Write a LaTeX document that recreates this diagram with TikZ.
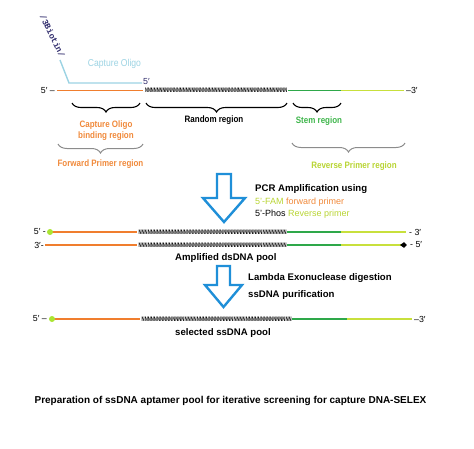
\documentclass[tikz,border=0pt]{standalone}
\usepackage{fontspec}
\usepackage{graphicx}
\setmainfont{Liberation Sans}
\newfontfamily\condf[FakeStretch=0.86]{Liberation Sans}
\newfontfamily\monof{Liberation Mono}
\usetikzlibrary{decorations.pathreplacing}
\definecolor{dorange}{HTML}{F07E2E}
\definecolor{lorange}{HTML}{F0893A}
\definecolor{dgreen}{HTML}{2EA84A}
\definecolor{lgreen}{HTML}{C8E03C}
\definecolor{tgreen}{HTML}{B8D432}
\definecolor{sgreen}{HTML}{3DB54A}
\definecolor{lblue}{HTML}{9CD3E3}
\definecolor{ablue}{HTML}{1F8FD8}
\definecolor{bgray}{HTML}{8C8C8C}
\definecolor{navy}{HTML}{2E2A6B}
\newcommand{\Nseq}[1]{\resizebox{#1}{4.5pt}{\bfseries NNNNNNNNNNNNNNNNNNNNNNNNNNNNNNNNNNNNNNNNNNNNNNNNN}}
\tikzset{
  strand/.style={line width=1.9pt},
  endlbl/.style={inner sep=0pt,font=\fontsize{8.8}{10}\selectfont},
  lbl/.style={inner sep=0pt,font=\condf\bfseries\fontsize{9.3}{11.5}\selectfont,align=center},
  brc/.style={decorate,decoration={brace,mirror,amplitude=9pt},line width=1.1pt},
  gbrc/.style={decorate,decoration={brace,mirror,amplitude=9pt},line width=1pt,bgray},
  hollow/.style={draw=ablue,line width=2.4pt,fill=white,line join=miter},
  step txt/.style={inner sep=0pt,anchor=west,font=\bfseries\fontsize{9.6}{11}\selectfont},
  sub txt/.style={inner sep=0pt,anchor=west,font=\fontsize{9}{11}\selectfont},
  dot/.style={circle,fill=lgreen!85!green,inner sep=0pt,minimum size=6pt},
  nseq/.style={inner sep=0pt,anchor=west}
}
\begin{document}
\begin{tikzpicture}[x=1pt,y=-1pt]
\useasboundingbox (0,0) rectangle (474,448);
% ---------- top strand ----------
\node[endlbl,anchor=east] (t5) at (55,90.5) {5′ –};
\coordinate (ta) at (57,90.5);
\coordinate (tb) at (143,90.5);
\draw[strand,dorange] (ta) -- (tb);
\node[nseq] (tn) at (145,90.5) {\Nseq{142pt}};
\coordinate (tc) at (288,90.5);
\coordinate (td) at (341,90.5);
\coordinate (te) at (404,90.5);
\draw[strand,dgreen] (tc) -- (td);
\draw[strand,lgreen] (td) -- (te);
\node[endlbl,anchor=west] (t3) at (406,90.5) {–3′};
% capture oligo
\coordinate (ca) at (60,60);
\coordinate (cb) at (69,83);
\coordinate (cc) at (142,83);
\draw[lblue,line width=1.4pt] (ca) -- (cb) -- (cc);
\node[endlbl,anchor=west,text=navy] (c5) at (143,81.5) {5′};
\node[inner sep=0pt,rotate=-63.5,text=navy,font=\monof\bfseries\fontsize{8.5}{9}\selectfont] (bio) at (52.5,36) {/3Biotin/};
\node[lbl,text=lblue,font=\condf\fontsize{10}{11}\selectfont] (cap) at (114.5,64) {Capture Oligo};
% braces
\draw[brc] (72,103) -- (140,103);
\draw[brc] (146,103) -- (287,103);
\draw[brc] (293,103) -- (341,103);
\node[lbl,text=lorange] (cobr) at (106,130.5) {Capture Oligo\\binding region};
\node[lbl] (rr) at (214,120.5) {Random region};
\node[lbl,text=sgreen] (sr) at (319,121) {Stem region};
\draw[gbrc] (58,144) -- (143,144);
\draw[gbrc] (292,143) -- (405,143);
\node[lbl,text=lorange] (fpr) at (100.5,164) {Forward Primer region};
\node[lbl,text=tgreen] (rpr) at (354,166) {Reverse Primer region};
% ---------- arrow 1 ----------
\draw[hollow] (217,174) -- (231,174) -- (231,198) -- (245,198) -- (224,222) -- (203,198) -- (217,198) -- cycle;
\node[step txt] (pcr) at (255,189) {PCR Amplification using};
\node[sub txt] (fam) at (255,202) {\textcolor{tgreen}{5'-FAM} \textcolor{lorange}{forward primer}};
\node[sub txt] (phos) at (255,214.5) {5'-Phos \textcolor{tgreen}{Reverse primer}};
% ---------- dsDNA ----------
\node[endlbl,anchor=east] (d5) at (46,232) {5′ -};
\coordinate (da) at (50,232);
\coordinate (db) at (137,232);
\draw[strand,dorange] (da) -- (db);
\node[dot] (dd1) at (da) {};
\node[nseq] (dn1) at (138.5,232) {\Nseq{148pt}};
\coordinate (dc) at (287,232);
\coordinate (dm) at (341,232);
\coordinate (de) at (406,232);
\draw[strand,dgreen] (dc) -- (dm);
\draw[strand,lgreen] (dm) -- (de);
\node[endlbl,anchor=west] (d3) at (409,232) {- 3′};
\node[endlbl,anchor=east] (e3) at (44,245) {3′-};
\coordinate (ea) at (45,245);
\coordinate (eb) at (137,245);
\draw[strand,dorange] (ea) -- (eb);
\node[nseq] (dn2) at (138.5,245) {\Nseq{148pt}};
\coordinate (ec) at (287,245);
\coordinate (em) at (341,245);
\coordinate (ee) at (404,245);
\draw[strand,dgreen] (ec) -- (em);
\draw[strand,lgreen] (em) -- (ee);
\fill (ee) ++(-4,0) -- ++(4,-2.8) -- ++(2.8,2.8) -- ++(-2.8,2.8) -- cycle;
\node[endlbl,anchor=west] (e5) at (410,245) {- 5′};
\node[step txt] (amp) at (175,258) {Amplified dsDNA pool};
% ---------- arrow 2 ----------
\draw[hollow] (217,266) -- (230,266) -- (230,285) -- (242,285) -- (223.5,307) -- (205,285) -- (217,285) -- cycle;
\node[step txt] (lam) at (248,278) {Lambda Exonuclease digestion};
\node[step txt] (pur) at (248,295) {ssDNA purification};
% ---------- selected ssDNA ----------
\node[endlbl,anchor=east] (s5) at (47,319) {5′ –};
\coordinate (sa) at (52,319);
\coordinate (sb) at (140,319);
\draw[strand,dorange] (sa) -- (sb);
\node[dot] (sd) at (sa) {};
\node[nseq] (sn) at (141.5,319) {\Nseq{150pt}};
\coordinate (sc) at (292,319);
\coordinate (sm) at (347,319);
\coordinate (se) at (412,319);
\draw[strand,dgreen] (sc) -- (sm);
\draw[strand,lgreen] (sm) -- (se);
\node[endlbl,anchor=west] (s3) at (414,319) {–3′};
\node[step txt] (sel) at (175,333) {selected ssDNA pool};
% ---------- caption ----------
\node[inner sep=0pt,font=\bfseries\fontsize{10}{12}\selectfont] (capt) at (230.5,401) {Preparation of ssDNA aptamer pool for iterative screening for capture DNA-SELEX};
\end{tikzpicture}
\end{document}
